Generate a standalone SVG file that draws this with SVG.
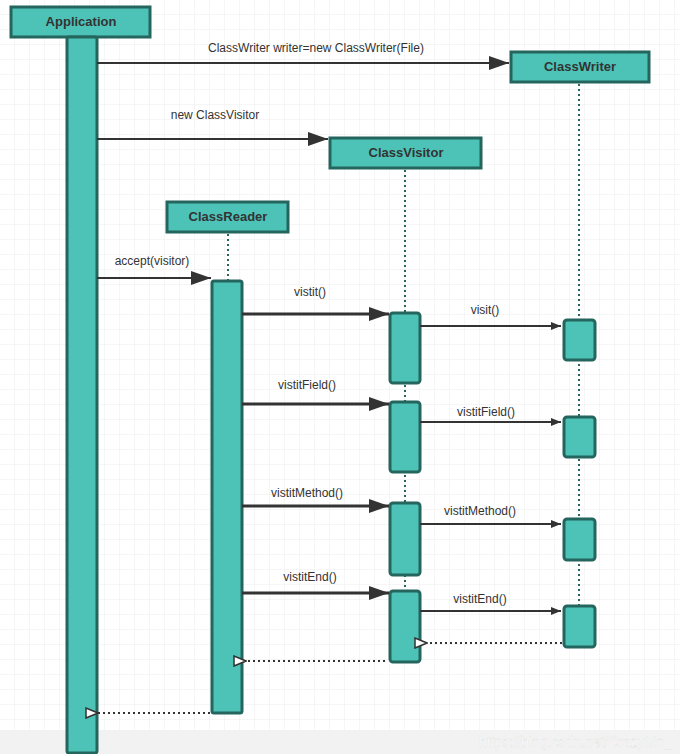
<svg xmlns="http://www.w3.org/2000/svg" width="680" height="754" viewBox="0 0 680 754">
<defs>
<pattern id="g" width="15" height="15" patternUnits="userSpaceOnUse"><path d="M15 0V15H0" fill="none" stroke="#ececec" stroke-width="1"/></pattern>
<marker id="a" markerWidth="10" markerHeight="8" refX="10" refY="4" orient="auto" markerUnits="userSpaceOnUse"><path d="M0,0L10,4L0,8z" fill="#333"/></marker>
<marker id="ab" markerWidth="20" markerHeight="14" refX="20" refY="7" orient="auto" markerUnits="userSpaceOnUse"><path d="M0,0L20,7L0,14z" fill="#333"/></marker>
<marker id="r" markerWidth="14" markerHeight="12" refX="1" refY="6" orient="auto" markerUnits="userSpaceOnUse"><path d="M13,1L1,6L13,11z" fill="#fff" stroke="#333" stroke-width="1.5"/></marker>
</defs>
<style>
.box{fill:#4dc3b8;stroke:#24655e;stroke-width:3}
.act{fill:#4dc3b8;stroke:#24655e;stroke-width:3}
.life{stroke:#24655e;stroke-width:2;stroke-dasharray:2 3}
.t{font-family:"Liberation Sans",Arial,sans-serif;font-size:12px;fill:#333;text-anchor:middle}
.tb{font-family:"Liberation Sans",Arial,sans-serif;font-size:13px;font-weight:bold;fill:#333;text-anchor:middle}
.m{stroke:#333;stroke-width:2;fill:none}
.mb{stroke:#333;stroke-width:3;fill:none}
.d{stroke:#333;stroke-width:2;stroke-dasharray:2 3;fill:none}
</style>
<rect width="680" height="754" fill="#fff"/>
<rect width="680" height="730" fill="url(#g)"/>
<rect y="730" width="680" height="24" fill="#f2f2f2"/>
<g id="lifelines">
<line class="life" x1="579" y1="84" x2="579" y2="647"/>
<line class="life" x1="405" y1="170" x2="405" y2="662"/>
<line class="life" x1="228" y1="234" x2="228" y2="281"/>
</g>
<g id="Application"><rect class="box" x="11" y="7" width="139" height="30"/><text class="tb" x="81" y="26">Application</text>
<rect class="act" x="67" y="37" width="30" height="716" rx="2"/></g>
<g id="ClassWriter"><rect class="box" x="511" y="52" width="138" height="30"/><text class="tb" x="580" y="71">ClassWriter</text></g>
<g id="ClassVisitor"><rect class="box" x="330" y="138" width="151" height="30"/><text class="tb" x="406" y="157">ClassVisitor</text></g>
<g id="ClassReader"><rect class="box" x="167" y="202" width="121" height="30"/><text class="tb" x="228" y="221">ClassReader</text></g>
<g id="activations">
<rect class="act" x="212" y="281" width="30" height="432" rx="2"/>
<rect class="act" x="390" y="313" width="30" height="70" rx="3" stroke-width="1.5"/>
<rect class="act" x="390" y="402" width="30" height="70" rx="3"/>
<rect class="act" x="390" y="503" width="30" height="72" rx="3"/>
<rect class="act" x="390" y="591" width="30" height="71" rx="3"/>
<rect class="act" x="564" y="320" width="31" height="40" rx="3"/>
<rect class="act" x="564" y="417" width="31" height="40" rx="3"/>
<rect class="act" x="564" y="519" width="31" height="41" rx="3"/>
<rect class="act" x="564" y="606" width="31" height="41" rx="3"/>
</g>
<g id="connectors">
<line class="m" x1="97" y1="63" x2="509" y2="63" marker-end="url(#ab)"/>
<line class="m" x1="97" y1="139" x2="328" y2="139" marker-end="url(#ab)"/>
<line class="m" x1="97" y1="278" x2="211" y2="278" marker-end="url(#ab)"/>
<line class="mb" x1="242" y1="314" x2="389" y2="314" marker-end="url(#ab)"/>
<line class="mb" x1="242" y1="404" x2="389" y2="404" marker-end="url(#ab)"/>
<line class="mb" x1="242" y1="506" x2="389" y2="506" marker-end="url(#ab)"/>
<line class="mb" x1="242" y1="593" x2="389" y2="593" marker-end="url(#ab)"/>
<line class="m" x1="420" y1="326" x2="561" y2="326" marker-end="url(#a)"/>
<line class="m" x1="420" y1="422" x2="561" y2="422" marker-end="url(#a)"/>
<line class="m" x1="420" y1="524" x2="561" y2="524" marker-end="url(#a)"/>
<line class="m" x1="420" y1="611" x2="561" y2="611" marker-end="url(#a)"/>
<line class="d" x1="562" y1="643" x2="427" y2="643" marker-end="url(#r)"/>
<line class="d" x1="385" y1="661" x2="246" y2="661" marker-end="url(#r)"/>
<line class="d" x1="210" y1="713" x2="98" y2="713" marker-end="url(#r)"/>
</g>
<g id="labels">
<text class="t" x="316" y="52">ClassWriter writer=new ClassWriter(File)</text>
<text class="t" x="215" y="119">new ClassVisitor</text>
<text class="t" x="152" y="265">accept(visitor)</text>
<text class="t" x="310" y="296">vistit()</text>
<text class="t" x="485" y="314">visit()</text>
<text class="t" x="307" y="389">vistitField()</text>
<text class="t" x="486" y="416">vistitField()</text>
<text class="t" x="307" y="497">vistitMethod()</text>
<text class="t" x="480" y="515">vistitMethod()</text>
<text class="t" x="310" y="581">vistitEnd()</text>
<text class="t" x="480" y="603">vistitEnd()</text>
</g>
<text x="672" y="747" font-family="Liberation Sans,Arial,sans-serif" font-size="14" fill="#ffffff" stroke="#ddd" stroke-width="0.3" text-anchor="end">https://blog.csdn.net/CrazyMo_</text>
</svg>
